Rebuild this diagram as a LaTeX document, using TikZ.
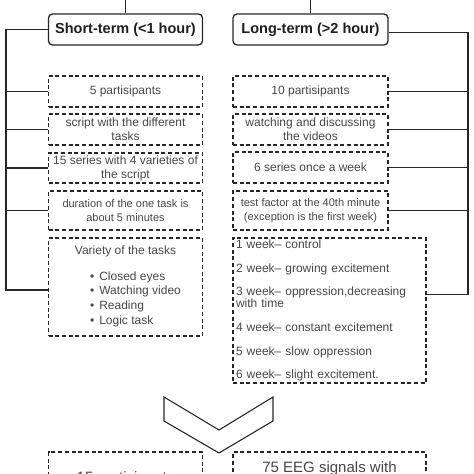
\documentclass[tikz,border=0pt]{standalone}
\usepackage{fontspec}
\setmainfont{Liberation Sans}
\usetikzlibrary{positioning}
\tikzset{
  head/.style={draw=black!85, line width=1.3pt, rounded corners=4pt, fill=white, text=black!88,
    font=\bfseries\fontsize{14.5}{17}\selectfont, minimum height=31pt, inner sep=1pt},
  item/.style={draw=black!85, line width=1.4pt, dash pattern=on 4pt off 2.7pt, fill=white, text=black!72,
    font=\fontsize{12}{14}\selectfont, align=center, inner sep=1pt},
  link/.style={draw=black!85, line width=1.3pt}
}
\begin{document}
\begin{tikzpicture}[x=1pt,y=-1pt]
\useasboundingbox (0,0) rectangle (474,474);
\clip (0,0) rectangle (474,474);
% the two groups
\node[head, minimum width=154pt] (st) at (125.5,29.5) {Short-term (<1 hour)};
\node[head, minimum width=155pt] (lt) at (310.5,29.5) {Long-term (>2 hour)};
\coordinate (sttop) at (125.5,0);
\coordinate (lttop) at (310.5,0);
\coordinate (lrail) at (6,0);
\coordinate (rrail) at (468,0);
% left column
\node[item, minimum width=154pt, minimum height=31pt] (s1) at (125.5,91.5) {5 partisipants};
\node[item, minimum width=154pt, minimum height=31pt] (s2) at (125.5,129.5) {script with the different\\tasks};
\node[item, minimum width=154pt, minimum height=30pt] (s3) at (125.5,168) {15 series with 4 varieties of\\the script};
\node[item, minimum width=154pt, minimum height=39pt, font=\fontsize{11}{14}\selectfont] (s4) at (125.5,210.5) {duration of the one task is\\about 5 minutes};
\node[item, minimum width=154pt, minimum height=98pt, font=\fontsize{12}{14.7}\selectfont] (s5) at (125.5,287)
  {Variety of the tasks\\[11.3pt]\hspace*{20pt}\begin{tabular}[t]{@{}l@{\hspace{5pt}}l@{}}
    \textbullet & Closed eyes\\ \textbullet & Watching video\\ \textbullet & Reading\\ \textbullet & Logic task
  \end{tabular}};
% right column
\node[item, minimum width=155pt, minimum height=31pt] (l1) at (310.5,91.5) {10 partisipants};
\node[item, minimum width=155pt, minimum height=31pt] (l2) at (310.5,129.5) {watching and discussing\\the videos};
\node[item, minimum width=155pt, minimum height=31pt] (l3) at (310.5,167.5) {6 series once a week};
\node[item, minimum width=155pt, minimum height=39pt, font=\fontsize{11}{14}\selectfont] (l4) at (310.5,210.5) {test factor at the 40th minute\\(exception is the first week)};
\node[item, minimum width=193pt, minimum height=145pt, align=left, text width=187pt, font=\fontsize{12}{11.7}\selectfont] (l5) at (329.5,310.5)
  {1 week– control\\[12pt]2 week– growing excitement\\[12pt]3 week– oppression,decreasing\\with time\\[12pt]4 week– constant excitement\\[12pt]5 week– slow oppression\\[12pt]6 week– slight excitement.};
% result
\draw[line width=1.1pt, black!85] (164,397) -- (219,430) -- (273,397) -- (273,421) -- (219,453) -- (164,421) -- cycle;
\node[item, minimum width=154pt, minimum height=54pt, font=\fontsize{15}{18}\selectfont] (b1) at (125.5,479) {15 partisipants};
\node[item, minimum width=193pt, minimum height=34pt, font=\fontsize{15}{18}\selectfont] (b2) at (329.5,469) {75 EEG signals with};
% connectors
\coordinate (s5in) at ([yshift=-3pt]s5.west);
\coordinate (l5in) at ([yshift=16pt]l5.east);
\draw[link] (sttop) -- (st.north);
\draw[link] (lttop) -- (lt.north);
\draw[link] (st.west) -| (lrail |- s5in) -- (s5in);
\foreach \n in {s1,s2,s3,s4} % left branches
\draw[link] (\n.west) -- (lrail |- \n.west);
\draw[link] ([yshift=-3pt]lt.east) -| (rrail |- l5in) -- (l5in);
\foreach \n in {l1,l2,l3,l4} % right branches
\draw[link] (\n.east) -- (rrail |- \n.east);
\end{tikzpicture}
\end{document}
